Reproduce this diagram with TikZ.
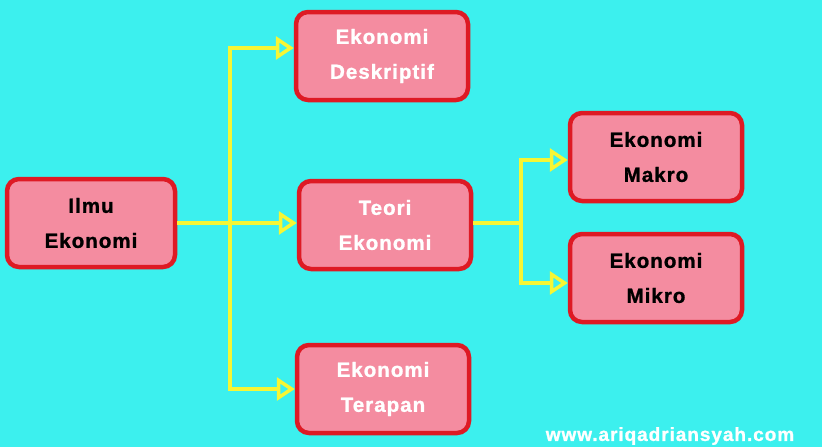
\documentclass[tikz,border=0pt]{standalone}
\usepackage{fontspec}
\setmainfont{Liberation Sans}
\newfontfamily\boxfont[LetterSpace=5,FakeBold=1.2]{Liberation Sans Bold}
\usepackage{tikz}
\usetikzlibrary{arrows.meta,positioning}
\definecolor{bgcyan}{RGB}{60,240,238}
\definecolor{boxpink}{RGB}{244,140,160}
\definecolor{boxred}{RGB}{222,26,36}
\definecolor{lineyel}{RGB}{246,246,52}
\tikzset{
    ekobox/.style={draw=boxred,fill=boxpink,line width=4.5pt,rounded corners=12pt,
        minimum width=172pt,minimum height=88pt,align=center,
        font=\boxfont\fontsize{20.5}{35}\selectfont},
    whitetext/.style={text=white},
    blacktext/.style={text=black},
    link/.style={draw=lineyel,line width=4pt,
        -{Triangle[open,length=18pt,width=23pt,line width=3.5pt]}},
    trunk/.style={draw=lineyel,line width=4pt}
}
\begin{document}
\begin{tikzpicture}[x=1pt,y=-1pt]
    \fill[bgcyan] (0,0) rectangle (822,447);
    \useasboundingbox (0,0) rectangle (822,447);
    \node[ekobox,blacktext,minimum width=168pt] (ilmu) at (91,223)  {Ilmu\\Ekonomi};
    \node[ekobox,whitetext] (desk)  at (382,56)  {Ekonomi\\Deskriptif};
    \node[ekobox,whitetext] (teori) at (385,225) {Teori\\Ekonomi};
    \node[ekobox,whitetext] (terap) at (383,389) {Ekonomi\\Terapan};
    \node[ekobox,blacktext] (makro) at (656,157) {Ekonomi\\Makro};
    \node[ekobox,blacktext] (mikro) at (656,278) {Ekonomi\\Mikro};
    \coordinate (split1) at (230,223);
    \coordinate (split2) at (521,223);
    \draw[link] (ilmu.east) -- (ilmu.east -| teori.west);
    \draw[link] (split1) |- ([yshift=8pt]desk.west);
    \draw[link] (split1) |- (terap.west);
    \draw[trunk] (teori.east |- split2) -- (split2);
    \draw[link] (split2) |- ([yshift=-3pt]makro.west);
    \draw[link] (split2) |- ([yshift=-5pt]mikro.west);
    \node[text=white,font=\boxfont\fontsize{19}{20}\selectfont] (web) at (670,436) {www.ariqadriansyah.com};
\end{tikzpicture}
\end{document}
